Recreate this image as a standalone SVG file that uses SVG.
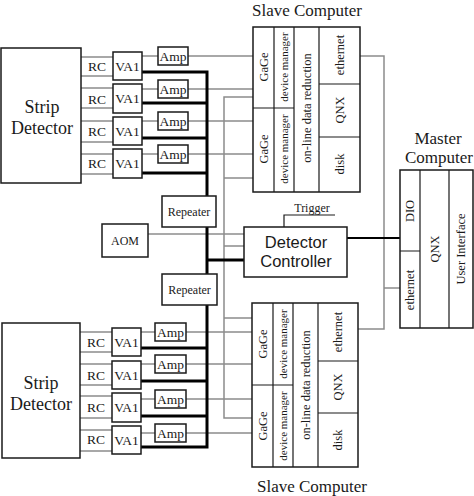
<svg xmlns="http://www.w3.org/2000/svg" width="474" height="496" viewBox="0 0 474 496">
<style>
.box{fill:#fff;stroke:#1a1a1a;stroke-width:1.5}
.div{stroke:#1a1a1a;stroke-width:1.2;fill:none}
.g{stroke:#8c8c8c;stroke-width:1.5;fill:none}
.k{stroke:#000;stroke-width:3;fill:none}
.k2{stroke:#000;stroke-width:2;fill:none}
text{font-family:"Liberation Serif","Times New Roman",serif;fill:#1a1a1a;text-anchor:middle}
.big{font-size:18px}
.ttl{font-size:17px}
.sm{font-size:13.5px}
.xs{font-size:12px}
.r{font-size:12.5px}
.dm{font-size:11px}
.sans{font-family:"Liberation Sans",Arial,sans-serif;font-size:16.5px}
</style>
<g id="connectors">
<path class="g" d="M81 57H113M81 76H113M81 88H113M81 108H113M81 121H113M81 142H113M81 154H113M81 174H113"/>
<path class="g" d="M80 332H112M80 352H112M80 364H112M80 385H112M80 396H112M80 418H112M80 430H112M80 451H112"/>
<path class="g" d="M142 56H158M188 56H253M142 89H158M188 89H253M142 121H158M188 121H253M142 154H158M188 154H253"/>
<path class="g" d="M141 332H155M186 332H252M141 364H155M186 364H252M141 399H155M186 399H252M141 433H155M186 433H252"/>
<path class="g" d="M253 97H224V418H252M224 178H253M224 318H252M224 246H244"/>
<path class="g" d="M148 234H244"/>
<path class="g" d="M360 56H384V329H358M384 288H400"/>
<path class="k" d="M142 72H207V196M207 227V274M207 305V447H141M142 103H207M142 138H207M142 173H207M141 348H207M141 381H207M141 416H207"/>
<path class="k" d="M207 260H244"/>
<path class="k2" d="M347 238H400"/>
<path class="div" d="M284 227V215H335"/>
</g>
<g id="strip1"><rect class="box" x="1" y="48" width="80" height="135"/><text class="big" x="42" y="113">Strip</text><text class="big" x="42" y="134">Detector</text></g>
<g id="strip2"><rect class="box" x="2" y="323" width="78" height="135"/><text class="big" x="41" y="389">Strip</text><text class="big" x="41" y="410">Detector</text></g>
<g id="rc-upper"><text class="sm" x="97" y="71">RC</text><text class="sm" x="97" y="104">RC</text><text class="sm" x="97" y="136">RC</text><text class="sm" x="97" y="168">RC</text></g>
<g id="rc-lower"><text class="sm" x="96" y="347">RC</text><text class="sm" x="96" y="380">RC</text><text class="sm" x="96" y="412">RC</text><text class="sm" x="96" y="444">RC</text></g>
<g id="va1-upper">
<rect class="box" x="113" y="52" width="29" height="28"/><text class="sm" x="127.5" y="71">VA1</text>
<rect class="box" x="113" y="84" width="29" height="29"/><text class="sm" x="127.5" y="103">VA1</text>
<rect class="box" x="113" y="117" width="29" height="28"/><text class="sm" x="127.5" y="136">VA1</text>
<rect class="box" x="113" y="149" width="29" height="29"/><text class="sm" x="127.5" y="168">VA1</text>
</g>
<g id="va1-lower">
<rect class="box" x="112" y="328" width="29" height="28"/><text class="sm" x="126.5" y="347">VA1</text>
<rect class="box" x="112" y="361" width="29" height="28"/><text class="sm" x="126.5" y="380">VA1</text>
<rect class="box" x="112" y="393" width="29" height="29"/><text class="sm" x="126.5" y="412">VA1</text>
<rect class="box" x="112" y="426" width="29" height="28"/><text class="sm" x="126.5" y="445">VA1</text>
</g>
<g id="amp-upper">
<rect class="box" x="158" y="47" width="30" height="18"/><text class="sm" x="173" y="61">Amp</text>
<rect class="box" x="158" y="80" width="30" height="18"/><text class="sm" x="173" y="94">Amp</text>
<rect class="box" x="158" y="112" width="30" height="18"/><text class="sm" x="173" y="126">Amp</text>
<rect class="box" x="158" y="145" width="30" height="18"/><text class="sm" x="173" y="159">Amp</text>
</g>
<g id="amp-lower">
<rect class="box" x="155" y="323" width="31" height="18"/><text class="sm" x="170.5" y="337">Amp</text>
<rect class="box" x="155" y="355" width="31" height="18"/><text class="sm" x="170.5" y="369">Amp</text>
<rect class="box" x="155" y="390" width="31" height="18"/><text class="sm" x="170.5" y="404">Amp</text>
<rect class="box" x="155" y="424" width="31" height="18"/><text class="sm" x="170.5" y="438">Amp</text>
</g>
<g id="repeater1"><rect class="box" x="162" y="196" width="54" height="31"/><text class="xs" x="189" y="216">Repeater</text></g>
<g id="repeater2"><rect class="box" x="162" y="274" width="55" height="31"/><text class="xs" x="189.5" y="294">Repeater</text></g>
<g id="aom"><rect class="box" x="102" y="224" width="46" height="33"/><text class="xs" x="125" y="245">AOM</text></g>
<g id="controller"><rect class="box" x="244" y="227" width="103" height="50"/><text class="sans" x="296" y="248">Detector</text><text class="sans" x="296" y="267">Controller</text><text class="xs" x="312" y="212">Trigger</text></g>
<g id="slave1">
<text class="ttl" x="307" y="16">Slave Computer</text>
<rect class="box" x="253" y="27" width="107" height="165"/>
<path class="div" d="M274 27V192M294 27V192M319 27V192M253 108H294M319 84H360M319 137H360"/>
<text class="r" transform="translate(263.5,67) rotate(-90)" dy="0.35em">GaGe</text>
<text class="dm" transform="translate(284,67) rotate(-90)" dy="0.35em">device manager</text>
<text class="r" transform="translate(263.5,149) rotate(-90)" dy="0.35em">GaGe</text>
<text class="dm" transform="translate(284,149) rotate(-90)" dy="0.35em">device manager</text>
<text class="r" transform="translate(306.5,108) rotate(-90)" dy="0.35em">on-line data reduction</text>
<text class="r" transform="translate(339.5,55) rotate(-90)" dy="0.35em">ethernet</text>
<text class="r" transform="translate(339.5,110) rotate(-90)" dy="0.35em">QNX</text>
<text class="r" transform="translate(339.5,164) rotate(-90)" dy="0.35em">disk</text>
</g>
<g id="slave2">
<text class="ttl" x="312" y="492">Slave Computer</text>
<rect class="box" x="252" y="303" width="106" height="164"/>
<path class="div" d="M273 303V467M293 303V467M318 303V467M252 385H293M318 361H358M318 413H358"/>
<text class="r" transform="translate(262.5,344) rotate(-90)" dy="0.35em">GaGe</text>
<text class="dm" transform="translate(283,344) rotate(-90)" dy="0.35em">device manager</text>
<text class="r" transform="translate(262.5,426) rotate(-90)" dy="0.35em">GaGe</text>
<text class="dm" transform="translate(283,426) rotate(-90)" dy="0.35em">device manager</text>
<text class="r" transform="translate(305.5,385) rotate(-90)" dy="0.35em">on-line data reduction</text>
<text class="r" transform="translate(338,332) rotate(-90)" dy="0.35em">ethernet</text>
<text class="r" transform="translate(338,387) rotate(-90)" dy="0.35em">QNX</text>
<text class="r" transform="translate(338,440) rotate(-90)" dy="0.35em">disk</text>
</g>
<g id="master">
<text class="ttl" x="438" y="144">Master</text>
<text class="ttl" x="439" y="163">Computer</text>
<rect class="box" x="400" y="170" width="73" height="158"/>
<path class="div" d="M420 170V328M449 170V328M400 251H420"/>
<text class="r" transform="translate(410,211) rotate(-90)" dy="0.35em">DIO</text>
<text class="r" transform="translate(410,290) rotate(-90)" dy="0.35em">ethernet</text>
<text class="r" transform="translate(434.5,249) rotate(-90)" dy="0.35em">QNX</text>
<text class="r" transform="translate(461,249) rotate(-90)" dy="0.35em">User Interface</text>
</g>
</svg>
